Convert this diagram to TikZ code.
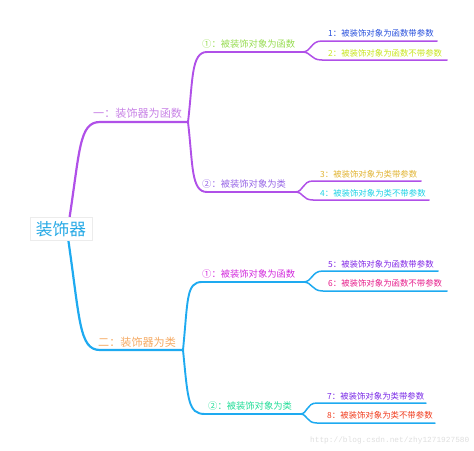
\documentclass[tikz,border=0pt]{standalone}
\usepackage{fontspec}
\setmainfont{Noto Sans CJK SC}
\newfontfamily\wmfont{Liberation Mono}
\definecolor{lpurple}{RGB}{176,80,232}
\definecolor{lblue}{RGB}{30,170,240}
\definecolor{croot}{RGB}{40,170,230}
\definecolor{cA}{RGB}{200,130,230}
\definecolor{cB}{RGB}{245,170,100}
\definecolor{cA1}{RGB}{150,220,80}
\definecolor{cL1}{RGB}{40,80,220}
\definecolor{cL2}{RGB}{200,230,30}
\definecolor{cA2}{RGB}{150,100,230}
\definecolor{cL3}{RGB}{225,180,50}
\definecolor{cL4}{RGB}{30,210,230}
\definecolor{cB1}{RGB}{210,40,220}
\definecolor{cL5}{RGB}{130,40,230}
\definecolor{cL6}{RGB}{230,30,140}
\definecolor{cB2}{RGB}{30,220,150}
\definecolor{cL7}{RGB}{120,40,230}
\definecolor{cL8}{RGB}{240,60,30}
\begin{document}
\begin{tikzpicture}[x=1pt,y=-1pt,
  lvone/.style={line width=2.2pt,line cap=round},
  lvtwo/.style={line width=1.9pt,line cap=round},
  lvleaf/.style={line width=1.5pt,line cap=round},
  lab/.style={anchor=west,inner sep=0pt},
  labone/.style={lab,font=\fontsize{11.1}{12}\selectfont},
  labtwo/.style={lab,font=\fontsize{9.3}{10}\selectfont},
  lableaf/.style={lab,font=\fontsize{8.4}{9}\selectfont}]
\useasboundingbox (0,0) rectangle (474,450);
% junction coordinates
\coordinate (rt) at (69,221);
\coordinate (rb) at (68,238);
\coordinate (A) at (188,122);
\coordinate (Aa) at (100,122);
\coordinate (B) at (183,350);
\coordinate (Ba) at (100,350);
\coordinate (A1s) at (207,52);  \coordinate (A1) at (302,52);
\coordinate (A2s) at (207,192); \coordinate (A2) at (295,192);
\coordinate (B1s) at (202,282); \coordinate (B1) at (303,282);
\coordinate (B2s) at (205,414); \coordinate (B2) at (300,414);
\coordinate (L1s) at (322,41);  \coordinate (L1) at (437,41);
\coordinate (L2s) at (322,60);  \coordinate (L2) at (447,60);
\coordinate (L3s) at (313,181); \coordinate (L3) at (421,181);
\coordinate (L4s) at (313,200); \coordinate (L4) at (429,200);
\coordinate (L5s) at (323,271); \coordinate (L5) at (438,271);
\coordinate (L6s) at (323,291); \coordinate (L6) at (447,291);
\coordinate (L7s) at (317,403); \coordinate (L7) at (426,403);
\coordinate (L8s) at (317,423); \coordinate (L8) at (435,423);
% purple branch
\draw[lvone,lpurple] (rt) .. controls (80,150) and (79,122) .. (Aa) -- (A);
\draw[lvtwo,lpurple] (A) .. controls (193,80) and (191,52) .. (A1s) -- (A1);
\draw[lvtwo,lpurple] (A) .. controls (193,165) and (191,192) .. (A2s) -- (A2);
\draw[lvleaf,lpurple] (A1) .. controls (312,52) and (310,41) .. (L1s) -- (L1);
\draw[lvleaf,lpurple] (A1) .. controls (312,52) and (310,60) .. (L2s) -- (L2);
\draw[lvleaf,lpurple] (A2) .. controls (304,192) and (302,181) .. (L3s) -- (L3);
\draw[lvleaf,lpurple] (A2) .. controls (304,192) and (302,200) .. (L4s) -- (L4);
% blue branch
\draw[lvone,lblue] (rb) .. controls (80,320) and (79,350) .. (Ba) -- (B);
\draw[lvtwo,lblue] (B) .. controls (188,300) and (186,282) .. (B1s) -- (B1);
\draw[lvtwo,lblue] (B) .. controls (188,400) and (188,414) .. (B2s) -- (B2);
\draw[lvleaf,lblue] (B1) .. controls (313,282) and (311,271) .. (L5s) -- (L5);
\draw[lvleaf,lblue] (B1) .. controls (313,282) and (311,291) .. (L6s) -- (L6);
\draw[lvleaf,lblue] (B2) .. controls (308,414) and (306,403) .. (L7s) -- (L7);
\draw[lvleaf,lblue] (B2) .. controls (308,414) and (306,423) .. (L8s) -- (L8);
% root
\node[draw={rgb,255:red,236;green,236;blue,236},fill=white,line width=0.6pt,minimum width=62pt,minimum height=23pt,inner sep=0pt,text=croot,font=\fontsize{16.7}{18}\selectfont] (root) at (61,229) {装饰器};
% labels
\node[labone,text=cA] (tA) at (93,113) {一：装饰器为函数};
\node[labone,text=cB] (tB) at (98,342) {二：装饰器为类};
\node[labtwo,text=cA1] (tA1) at (202,44) {①：被装饰对象为函数};
\node[labtwo,text=cA2] (tA2) at (202,184) {②：被装饰对象为类};
\node[labtwo,text=cB1] (tB1) at (202,274) {①：被装饰对象为函数};
\node[labtwo,text=cB2] (tB2) at (208,406) {②：被装饰对象为类};
\node[lableaf,text=cL1] (t1) at (328,33) {1：被装饰对象为函数带参数};
\node[lableaf,text=cL2] (t2) at (328,53) {2：被装饰对象为函数不带参数};
\node[lableaf,text=cL3] (t3) at (320,174) {3：被装饰对象为类带参数};
\node[lableaf,text=cL4] (t4) at (320,193) {4：被装饰对象为类不带参数};
\node[lableaf,text=cL5] (t5) at (328,264) {5：被装饰对象为函数带参数};
\node[lableaf,text=cL6] (t6) at (328,283) {6：被装饰对象为函数不带参数};
\node[lableaf,text=cL7] (t7) at (327,396) {7：被装饰对象为类带参数};
\node[lableaf,text=cL8] (t8) at (327,415) {8：被装饰对象为类不带参数};
% watermark
\node[lab,text={rgb,255:red,222;green,222;blue,222},font=\wmfont\fontsize{7.8}{8}\selectfont] (wm) at (310,440) {http://blog.csdn.net/zhy1271927580};
\end{tikzpicture}
\end{document}
